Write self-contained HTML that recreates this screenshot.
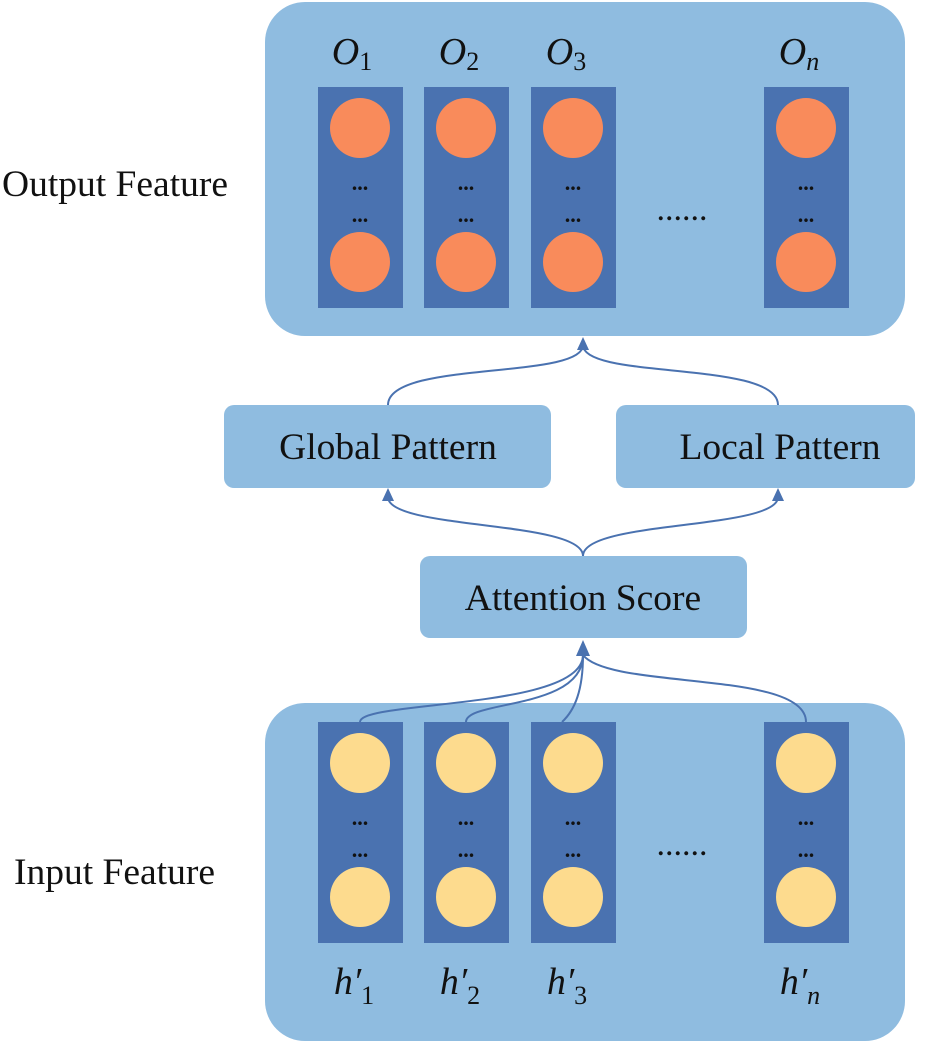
<!DOCTYPE html>
<html><head><style>
body{margin:0;background:#fff;width:944px;height:1044px;overflow:hidden}
</style></head><body>
<svg width="944" height="1044" viewBox="0 0 944 1044" xmlns="http://www.w3.org/2000/svg" font-family="Liberation Serif, serif">
<rect x="265" y="2" width="640" height="334" rx="40" fill="#8FBCE0"/>
<rect x="265" y="703" width="640" height="338" rx="40" fill="#8FBCE0"/>
<g fill="#4A72B0">
<rect x="318" y="87" width="85" height="221"/><rect x="424" y="87" width="85" height="221"/><rect x="531" y="87" width="85" height="221"/><rect x="764" y="87" width="85" height="221"/>
<rect x="318" y="722" width="85" height="221"/><rect x="424" y="722" width="85" height="221"/><rect x="531" y="722" width="85" height="221"/><rect x="764" y="722" width="85" height="221"/>
</g>
<g fill="#F98B5B">
<circle cx="360" cy="128" r="30"/><circle cx="466" cy="128" r="30"/><circle cx="573" cy="128" r="30"/><circle cx="806" cy="128" r="30"/>
<circle cx="360" cy="262" r="30"/><circle cx="466" cy="262" r="30"/><circle cx="573" cy="262" r="30"/><circle cx="806" cy="262" r="30"/>
</g>
<g fill="#FDDB8E">
<circle cx="360" cy="763" r="30"/><circle cx="466" cy="763" r="30"/><circle cx="573" cy="763" r="30"/><circle cx="806" cy="763" r="30"/>
<circle cx="360" cy="897" r="30"/><circle cx="466" cy="897" r="30"/><circle cx="573" cy="897" r="30"/><circle cx="806" cy="897" r="30"/>
</g>
<g font-size="22" font-weight="bold" fill="#111" text-anchor="middle">
<text x="360" y="190">...</text><text x="360" y="222">...</text>
<text x="466" y="190">...</text><text x="466" y="222">...</text>
<text x="573" y="190">...</text><text x="573" y="222">...</text>
<text x="806" y="190">...</text><text x="806" y="222">...</text>
<text x="360" y="825">...</text><text x="360" y="857">...</text>
<text x="466" y="825">...</text><text x="466" y="857">...</text>
<text x="573" y="825">...</text><text x="573" y="857">...</text>
<text x="806" y="825">...</text><text x="806" y="857">...</text>
</g>
<g font-size="34" fill="#111" text-anchor="middle">
<text x="682" y="220">......</text>
<text x="682" y="855">......</text>
</g>
<g font-size="38" font-style="italic" fill="#111" text-anchor="middle">
<text x="352" y="64">O<tspan font-style="normal" font-size="26" dy="6">1</tspan></text>
<text x="459" y="64">O<tspan font-style="normal" font-size="26" dy="6">2</tspan></text>
<text x="566" y="64">O<tspan font-style="normal" font-size="26" dy="6">3</tspan></text>
<text x="799" y="64">O<tspan font-size="26" dy="6">n</tspan></text>
<text x="354" y="994">h′<tspan font-style="normal" font-size="26" dy="10">1</tspan></text>
<text x="460" y="994">h′<tspan font-style="normal" font-size="26" dy="10">2</tspan></text>
<text x="567" y="994">h′<tspan font-style="normal" font-size="26" dy="10">3</tspan></text>
<text x="800" y="994">h′<tspan font-size="26" dy="10">n</tspan></text>
</g>
<g font-size="37.5" fill="#111">
<text x="2" y="196">Output Feature</text>
<text x="14" y="884">Input Feature</text>
</g>
<rect x="224" y="405" width="327" height="83" rx="10" fill="#8FBCE0"/>
<rect x="616" y="405" width="299" height="83" rx="10" fill="#8FBCE0"/>
<rect x="420" y="556" width="327" height="82" rx="10" fill="#8FBCE0"/>
<g font-size="37.5" fill="#111" text-anchor="middle">
<text x="388" y="459">Global Pattern</text>
<text x="780" y="459">Local Pattern</text>
<text x="583" y="610">Attention Score</text>
</g>
<g fill="none" stroke="#4A72B0" stroke-width="2">
<path d="M388 405 C388 360 583 380 583 345"/>
<path d="M778 405 C778 360 583 380 583 345"/>
<path d="M583 556 C583 520 388 530 388 497"/>
<path d="M583 556 C583 520 778 530 778 497"/>
<path d="M360 722 C360 700 583 710 583 655"/>
<path d="M466 722 C466 700 583 710 583 655"/>
<path d="M562 722 C575 710 583 690 583 655"/>
<path d="M806 722 C806 670 610 690 583 655"/>
</g>
<g fill="#4A72B0">
<path d="M583 337 L577 350 L589 350Z"/>
<path d="M388 488 L382 501 L394 501Z"/>
<path d="M778 488 L772 501 L784 501Z"/>
<path d="M583 640 L576 656 L590 656Z"/>
</g>
</svg>
</body></html>
